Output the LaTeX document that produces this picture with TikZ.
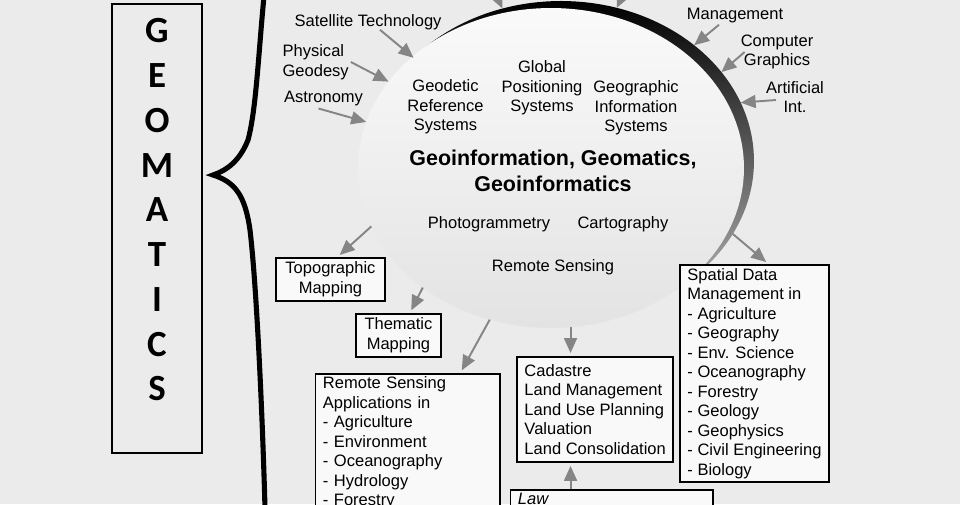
\documentclass[tikz,border=0pt]{standalone}
\usepackage{fontspec}
\setmainfont{Liberation Sans}
\newfontfamily\lettersfont{Carlito}
\usepackage{tikz}
\usetikzlibrary{shapes.geometric, arrows.meta, calc, positioning}
\definecolor{bggray}{HTML}{EBEBEB}
\definecolor{arrowgray}{HTML}{858585}
\newcommand{\lblsize}{\fontsize{9.4}{11.1}\selectfont}
\newcommand{\titlesize}{\fontsize{12.2}{14.8}\selectfont}

\begin{document}
\begin{tikzpicture}[x=0.02cm, y=-0.02cm]
	\tikzstyle{lbl}=[font=\lblsize, align=center, inner sep=1pt]
	\tikzstyle{boxc}=[draw=black, line width=1.1pt, fill=gray!5, font=\lblsize, inner xsep=0.15cm, inner ysep=0.06cm]
	\tikzstyle{garrow}=[draw=arrowgray, line width=1.1pt, -{Triangle[length=0.3cm, width=0.26cm]}]
	\tikzstyle{gout}=[garrow, shorten >=0.06cm]
	\tikzstyle{letter}=[font=\lettersfont\bfseries\fontsize{21}{21}\selectfont, inner sep=0pt]
	\tikzstyle{disc}=[ellipse, minimum width=7.72cm, minimum height=6.4cm, inner sep=0pt, outer sep=0pt]

	\useasboundingbox (0,0) rectangle (960,504);
	\clip (0,0) rectangle (960,504);
	\fill[bggray] (0,0) rectangle (960,504);

	% title column
	\node (gbox) at (157,228.5) [draw=black, line width=1.4pt, minimum width=1.8cm, minimum height=8.98cm] {};
	\foreach \l [count=\i] in {G,E,O,M,A,T,I,C,S}
		\node (g\i) at (157, 31+44.75*\i-44.75) [letter] {\l};

	% brace
	\coordinate (btop) at (264,-4);
	\coordinate (btip) at (213,175);
	\coordinate (bbot) at (265,508);
	\draw[line width=2.9pt] (btop) .. controls (258,60) and (256,110) .. (248,140) .. controls (240,160) and (228,170) .. (btip) .. controls (235,182) and (245,195) .. (250,230) .. controls (256,280) and (262,400) .. (bbot);

	% disc
	\node (rim) at (561,161) [disc, top color=black, bottom color=gray!50] {};
	\node (core) at (551,168) [disc, top color=gray!4, bottom color=gray!22] {};

	\node (grs) at (445.5,107) [lbl] {Geodetic\\Reference\\Systems};
	\node (gps) at (542,88) [lbl] {Global\\Positioning\\Systems};
	\node (gis) at (636,108) [lbl] {Geographic\\Information\\Systems};
	\node (geo) at (553,171) [lbl, font=\titlesize\bfseries] {Geoinformation, Geomatics,\\Geoinformatics};
	\node (photo) at (489,224) [lbl] {Photogrammetry};
	\node (carto) at (623,224) [lbl] {Cartography};
	\node (rs) at (553,267) [lbl] {Remote Sensing};

	% inputs
	\node (sat) at (368,22) [lbl] {Satellite Technology};
	\node (phys) at (280.5,62) [lbl, align=left, anchor=west] {Physical\\Geodesy};
	\node (astro) at (323.5,99) [lbl] {Astronomy};
	\node (dbm) at (735,5.5) [lbl] {Data Base\\Management};
	\node (cg) at (777,52) [lbl] {Computer\\Graphics};
	\node (ai) at (795,97) [lbl] {Artificial\\Int.};

	\coordinate (top1) at (486,-28);
	\coordinate (top2) at (561,-28);
	\coordinate (top3) at (634,-28);

	\draw[garrow] (top1) -- (rim.111);
	\draw[garrow] (top2) -- (rim.90);
	\draw[garrow] (top3) -- (rim.70);
	\draw[garrow] ($(sat.south)+(12,-2)$) -- (rim.145);
	\draw[garrow] (phys.east) -- (core.152);
	\draw[garrow] ($(astro.south)+(-5,0)$) -- (core.166);
	\draw[garrow] ($(dbm.south)+(-16,0)$) -- (rim.41);
	\draw[garrow] ($(cg.west)+(6,0)$) -- (rim.29);
	\draw[garrow] ($(ai.west)+(12,3)$) -- (rim.18);

	% outputs
	\node (topo) at (275,257) [boxc, anchor=north west, align=center, minimum width=2.18cm, minimum height=0.86cm] {Topographic\\Mapping};
	\node (them) at (355,313) [boxc, anchor=north west, align=center, minimum width=1.7cm, minimum height=0.86cm] {Thematic\\Mapping};
	\node (rsapp) at (314.5,373) [boxc, anchor=north west, align=left, text width=3.4cm] {Remote Sensing\\Applications in\\- Agriculture\\- Environment\\- Oceanography\\- Hydrology\\- Forestry};
	\node (cad) at (516,356) [boxc, anchor=north west, align=left, minimum width=3.1cm, minimum height=2.1cm] {Cadastre\\Land Management\\Land Use Planning\\Valuation\\Land Consolidation};
	\node (spatial) at (679,264) [boxc, anchor=north west, align=left, minimum width=2.98cm, minimum height=4.34cm] {Spatial Data\\Management in\\- Agriculture\\- Geography\\- Env. Science\\- Oceanography\\- Forestry\\- Geology\\- Geophysics\\- Civil Engineering\\- Biology};
	\node (law) at (509.5,489) [boxc, anchor=north west, align=left, text width=3.76cm, font=\lblsize\itshape] {Law};

	\draw[gout] (core.198) -- ($(topo.north)+(7,0)$);
	\draw[gout] (core.223) -- (them);
	\draw[gout] (core.248) -- ($(rsapp.north east)!0.22!(rsapp.north west)$);
	\draw[gout] (core.277) -- (core.277 |- cad.north);
	\draw[gout] (core.277 |- law.north) -- (core.277 |- cad.south);
	\draw[gout] (rim.337) -- ($(spatial.north)+(14,0)$);
\end{tikzpicture}
\end{document}
